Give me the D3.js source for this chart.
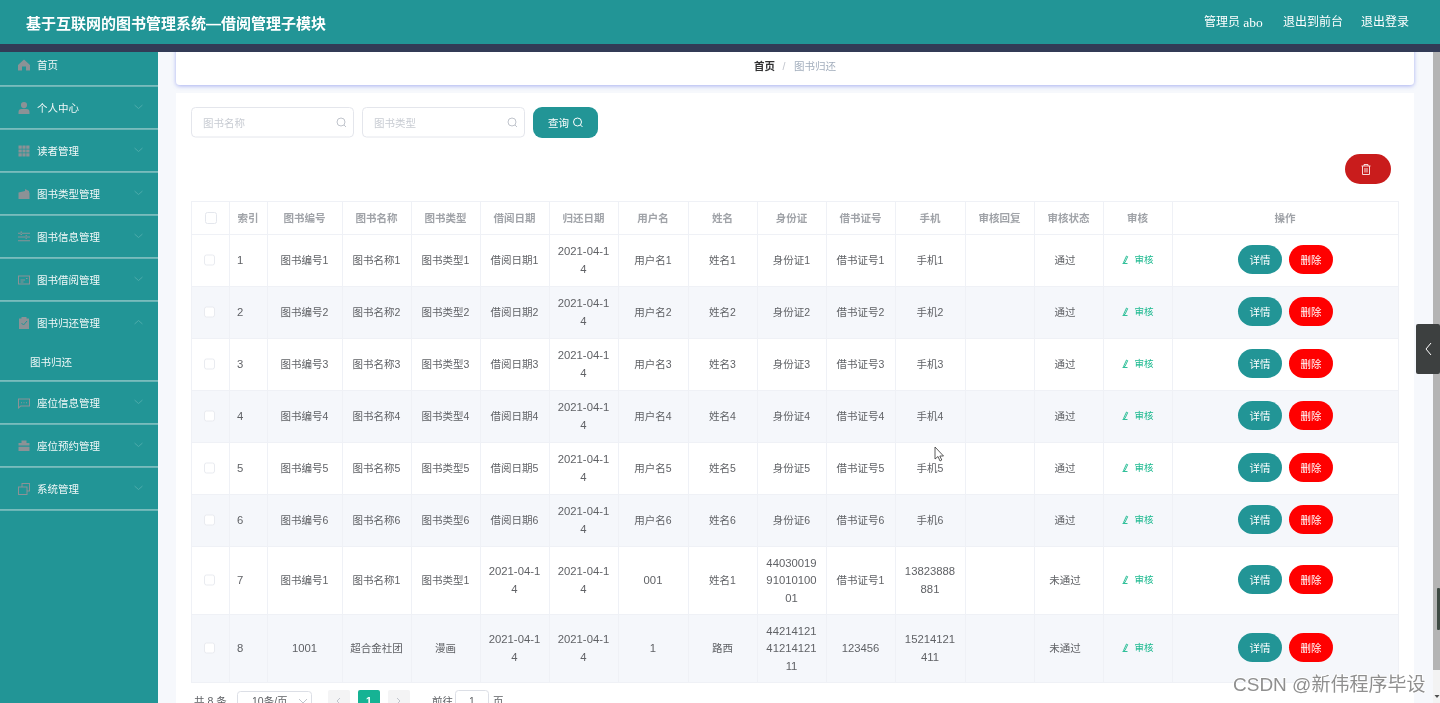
<!DOCTYPE html>
<html>
<head>
<meta charset="utf-8">
<script src="https://cdn.jsdelivr.net/npm/d3@7"></script>
<style>
  html, body { margin: 0; padding: 0; background: #f6f8fc; overflow: hidden; }
  svg { display: block; }
  text { font-family: "Liberation Sans", "Noto Sans CJK SC", sans-serif; }
</style>
</head>
<body>
<svg id="page" width="1440" height="703"></svg>
<script>
const WIDTH = 1440;
const HEIGHT = 703;

// sidebar
const menuLabels = ["首页", "个人中心", "读者管理", "图书类型管理", "图书信息管理", "图书借阅管理", "图书归还管理", "座位信息管理", "座位预约管理", "系统管理"];
const menuHeights = [43, 43, 43, 43, 43, 43, 80, 43, 43, 43];
const menuIcons = ["home", "user", "grid", "case", "sliders", "card", "clip", "chat", "bag", "copy"];

// table
const columnTitles = ["", "索引", "图书编号", "图书名称", "图书类型", "借阅日期", "归还日期", "用户名", "姓名", "身份证", "借书证号", "手机", "审核回复", "审核状态", "审核", "操作"];
const columnWidths = [38, 38, 75, 69, 69, 69, 69, 70, 69, 69, 69, 70, 69, 69, 69, 226];
const rowHeights = [52, 52, 52, 52, 52, 52, 68, 68];

const indexes = [1, 2, 3, 4, 5, 6, 7, 8];
const bookCodes = ["图书编号1", "图书编号2", "图书编号3", "图书编号4", "图书编号5", "图书编号6", "图书编号1", "1001"];
const bookNames = ["图书名称1", "图书名称2", "图书名称3", "图书名称4", "图书名称5", "图书名称6", "图书名称1", "超合金社团"];
const bookTypes = ["图书类型1", "图书类型2", "图书类型3", "图书类型4", "图书类型5", "图书类型6", "图书类型1", "漫画"];
const borrowDates = ["借阅日期1", "借阅日期2", "借阅日期3", "借阅日期4", "借阅日期5", "借阅日期6", "2021-04-14", "2021-04-14"];
const returnDates = ["2021-04-14", "2021-04-14", "2021-04-14", "2021-04-14", "2021-04-14", "2021-04-14", "2021-04-14", "2021-04-14"];
const userNames = ["用户名1", "用户名2", "用户名3", "用户名4", "用户名5", "用户名6", "001", "1"];
const realNames = ["姓名1", "姓名2", "姓名3", "姓名4", "姓名5", "姓名6", "姓名1", "路西"];
const idCards = ["身份证1", "身份证2", "身份证3", "身份证4", "身份证5", "身份证6", "440300199101010001", "442141214121412111"];
const cardNumbers = ["借书证号1", "借书证号2", "借书证号3", "借书证号4", "借书证号5", "借书证号6", "借书证号1", "123456"];
const phones = ["手机1", "手机2", "手机3", "手机4", "手机5", "手机6", "13823888881", "15214121411"];
const replies = ["", "", "", "", "", "", "", ""];
const statuses = ["通过", "通过", "通过", "通过", "通过", "通过", "未通过", "未通过"];

const TEAL = "#219596";
const BORDER = "#eff1f6";
const svg = d3.select("#page");

const addRect = (g, x, y, w, h, fill, r = 0, stroke = null) =>
  g.append("rect").attr("x", x).attr("y", y).attr("width", w).attr("height", h)
    .attr("rx", r).attr("fill", fill).attr("stroke", stroke);

const addText = (g, x, y, str, size, fill, anchor = "start", weight = 400) =>
  g.append("text").attr("x", x).attr("y", y).attr("font-size", size).attr("fill", fill)
    .attr("text-anchor", anchor).attr("font-weight", weight)
    .attr("dominant-baseline", "central").text(str);

// blue tinted shadow of the breadcrumb card
const defs = svg.append("defs");
const glow = defs.append("filter").attr("id", "glow").attr("x", "-5%").attr("y", "-30%").attr("width", "110%").attr("height", "170%");
glow.append("feDropShadow").attr("dx", 0).attr("dy", 1).attr("stdDeviation", 2.2).attr("flood-color", "#6f7fe8").attr("flood-opacity", 0.6);
const soft = defs.append("filter").attr("id", "soft");
soft.append("feGaussianBlur").attr("stdDeviation", 0.4);

const root = svg.append("g").attr("filter", "url(#soft)");

// 1. Page background + cards
addRect(root, 0, 0, WIDTH, HEIGHT, "#f6f8fc");
addRect(root, 176, 93, 1238, 610, "#ffffff");
addRect(root, 176, 40, 1238, 45, "#ffffff", 4).attr("filter", "url(#glow)");

// 2. Sidebar
const sidebar = root.append("g");
addRect(sidebar, 0, 44, 158, HEIGHT - 44, TEAL);

const menuTops = [43, ...d3.cumsum(menuHeights).map(d => d + 43)];
const menuY = d3.scaleOrdinal().domain(menuLabels).range(menuTops);

const iconColor = "#8c9296";
const iconPaths = {
  home: "M-6 0 L0 -5.5 L6 0 V5.5 H2 V1.5 H-2 V5.5 H-6 Z",
  user: "M0 -6 A3 3 0 1 1 0 0.2 A3 3 0 1 1 0 -6 Z M-5.5 6 V4 Q-5.5 1 -2.5 1 H2.5 Q5.5 1 5.5 4 V6 Z",
  grid: "M-5.5 -5.5 H-2.2 V-2.2 H-5.5 Z M-1.6 -5.5 H1.6 V-2.2 H-1.6 Z M2.2 -5.5 H5.5 V-2.2 H2.2 Z M-5.5 -1.6 H-2.2 V1.6 H-5.5 Z M-1.6 -1.6 H1.6 V1.6 H-1.6 Z M2.2 -1.6 H5.5 V1.6 H2.2 Z M-5.5 2.2 H-2.2 V5.5 H-5.5 Z M-1.6 2.2 H1.6 V5.5 H-1.6 Z M2.2 2.2 H5.5 V5.5 H2.2 Z",
  case: "M-5.5 -1.5 L1 -3 V-5 L5 -3 V-1.5 H5.5 V5 H-5.5 Z",
  sliders: "M-6 -4.2 H6 V-3.2 H-6 Z M-6 -0.5 H6 V0.5 H-6 Z M-6 3.2 H6 V4.2 H-6 Z M-3.5 -5.5 H-2 V-2 H-3.5 Z M1.5 -1.8 H3 V1.8 H1.5 Z",
  card: "M-6 -4.5 H6 V4.5 H-6 Z M-5 -3.5 V3.5 H5 V-3.5 Z M-3.5 -0.5 H1 V0.5 H-3.5 Z M-3.5 1.5 H-0.5 V2.5 H-3.5 Z M2 -2 H3.5 V-1 H2 Z",
  clip: "M-5 -4.5 H-2.5 V-6 H2.5 V-4.5 H5 V6 H-5 Z",
  chat: "M-6 -4.5 H6 V3.5 H-3 L-6 6 Z M-5 -3.5 V3.8 L-3.4 2.5 H5 V-3.5 Z M-3 -0.8 H-2 V0.2 H-3 Z M-0.5 -0.8 H0.5 V0.2 H-0.5 Z M2 -0.8 H3 V0.2 H2 Z",
  bag: "M-2.5 -5.5 H2.5 V-3 H5.5 V-0.5 H-5.5 V-3 H-2.5 Z M-5.5 0.8 H5.5 V5 H-5.5 Z",
  copy: "M-2.5 -6 H6 V2.5 H3.5 V6 H-6 V-2.5 H-2.5 Z M-1.5 -5 V-2.5 H3.5 V1.5 H5 V-5 Z M-5 -1.5 V5 H2.5 V-1.5 Z"
};

const items = sidebar.selectAll(".menu").data(menuLabels).join("g").attr("class", "menu");

items.append("rect")
  .attr("x", 0).attr("width", 158).attr("height", 1.1)
  .attr("y", (d, i) => menuTops[i + 1] - 0.6)
  .attr("fill", "#b4d6d6");

const rowCentre = (d, i) => menuY(d) + 22;

items.append("path")
  .attr("d", (d, i) => iconPaths[menuIcons[i]])
  .attr("fill", iconColor)
  .attr("fill-rule", "evenodd")
  .attr("transform", (d, i) => `translate(24,${rowCentre(d, i)})`);

items.append("text")
  .attr("x", 37).attr("y", rowCentre)
  .attr("dominant-baseline", "central")
  .attr("font-size", 10.5).attr("fill", "#f2f8f8")
  .text(d => d);

items.filter(d => d !== "首页").append("path")
  .attr("d", d => d === "图书归还管理" ? "M-4 2 L0 -1.5 L4 2" : "M-4 -2 L0 1.5 L4 -2")
  .attr("fill", "none").attr("stroke", "#52adad").attr("stroke-width", 0.9)
  .attr("transform", (d, i) => `translate(138.5,${rowCentre(d, i) - 1})`);

// check mark on the opened item's clipboard
sidebar.append("path").attr("d", "M21.5 323 L23.5 325 L27 321").attr("fill", "none").attr("stroke", TEAL).attr("stroke-width", 1);

// submenu of the opened item
addText(sidebar, 30, 362, "图书归还", 10.5, "#f2f8f8");

// 3. Top bar
addRect(root, 0, 0, WIDTH, 44, TEAL);
addRect(root, 0, 44, WIDTH, 8, "#333a56");
addText(root, 26, 23, "基于互联网的图书管理系统—借阅管理子模块", 15, "#ffffff", "start", 700);
const admin = addText(root, 1204, 22, "管理员 ", 12, "#ffffff");
admin.append("tspan").attr("font-family", "Liberation Serif").attr("font-size", 13.5).text("abo");
addText(root, 1283, 22, "退出到前台", 12, "#ffffff");
addText(root, 1361, 22, "退出登录", 12, "#ffffff");

// 4. Breadcrumb
addText(root, 754, 66, "首页", 10.5, "#303133", "start", 700);
addText(root, 784, 66, "/", 10.5, "#c0c4cc", "middle");
addText(root, 794, 66, "图书归还", 10.5, "#a3aebd");

// 5. Search row
[[191, "图书名称"], [362, "图书类型"]].forEach(([x, label]) => {
  addRect(root, x + 0.5, 107.5, 162, 29.5, "#ffffff", 4, "#e4e6ec");
  addText(root, x + 12, 122.5, label, 10.5, "#c8ccd3");
  root.append("circle").attr("cx", x + 150).attr("cy", 122).attr("r", 4)
    .attr("fill", "none").attr("stroke", "#c0c4cc");
  root.append("line").attr("x1", x + 153).attr("y1", 125).attr("x2", x + 155).attr("y2", 127).attr("stroke", "#c0c4cc");
});
addRect(root, 533, 107, 65, 31, TEAL, 9);
addText(root, 548, 122.5, "查询", 10.5, "#ffffff");
root.append("circle").attr("cx", 577.5).attr("cy", 122).attr("r", 4).attr("fill", "none").attr("stroke", "#ffffff");
root.append("line").attr("x1", 580.5).attr("y1", 125).attr("x2", 582.5).attr("y2", 127).attr("stroke", "#ffffff");

// bulk delete
addRect(root, 1345, 154, 46, 30, "#c91c1c", 15);
root.append("path")
  .attr("d", "M-4.5 -3.5 H4.5 M-2 -3.5 V-5 H2 V-3.5 M-3.5 -3.5 V5 H3.5 V-3.5 M-1 -1.5 V3 M1 -1.5 V3")
  .attr("fill", "none").attr("stroke", "#f7dada").attr("stroke-width", 1)
  .attr("transform", "translate(1366,169.5)");

// 6. Table
const TABLE_LEFT = 191;
const HEAD_TOP = 201;
const HEAD_H = 33;

const columnEdges = [TABLE_LEFT, ...d3.cumsum(columnWidths).map(d => d + TABLE_LEFT)];
const xLeft = d3.scaleOrdinal().domain(d3.range(columnWidths.length)).range(columnEdges);
const xMid = i => xLeft(i) + columnWidths[i] / 2;

const rowEdges = [HEAD_TOP + HEAD_H, ...d3.cumsum(rowHeights).map(d => d + HEAD_TOP + HEAD_H)];
const yTop = d3.scaleOrdinal().domain(d3.range(rowHeights.length)).range(rowEdges);
const yMid = i => yTop(i) + rowHeights[i] / 2;

const TABLE_RIGHT = columnEdges[columnEdges.length - 1];
const TABLE_BOTTOM = rowEdges[rowEdges.length - 1];

const table = root.append("g");

table.selectAll(".stripe").data(rowHeights).join("rect")
  .attr("class", "stripe")
  .attr("x", TABLE_LEFT).attr("width", TABLE_RIGHT - TABLE_LEFT)
  .attr("y", (d, i) => yTop(i)).attr("height", d => d)
  .attr("fill", (d, i) => i % 2 ? "#f5f7fb" : "#ffffff");

// borders
table.selectAll(".vline").data(columnEdges).join("line")
  .attr("class", "vline")
  .attr("x1", d => d + 0.5).attr("x2", d => d + 0.5)
  .attr("y1", HEAD_TOP).attr("y2", TABLE_BOTTOM)
  .attr("stroke", BORDER);

table.selectAll(".hline").data([HEAD_TOP, ...rowEdges]).join("line")
  .attr("class", "hline")
  .attr("x1", TABLE_LEFT).attr("x2", TABLE_RIGHT)
  .attr("y1", d => d + 0.5).attr("y2", d => d + 0.5)
  .attr("stroke", BORDER);

// header titles
table.selectAll(".title").data(columnTitles).join("text")
  .attr("class", "title")
  .attr("x", (d, i) => xMid(i)).attr("y", HEAD_TOP + 17)
  .attr("text-anchor", "middle").attr("dominant-baseline", "central")
  .attr("font-size", 10.5).attr("font-weight", 700).attr("fill", "#a0a3a8")
  .text(d => d);

addRect(table, 205.5, 212.5, 11, 11, "#ffffff", 2, "#e4e7ed");

// checkboxes
table.selectAll(".check").data(indexes).join("rect")
  .attr("class", "check")
  .attr("x", 204.5).attr("width", 10).attr("height", 10).attr("rx", 2)
  .attr("y", (d, i) => yMid(i) - 5)
  .attr("fill", "#ffffff").attr("stroke", "#e9ebf0");

// index column is left aligned
table.selectAll(".idx").data(indexes).join("text")
  .attr("class", "idx")
  .attr("x", xLeft(1) + 8).attr("y", (d, i) => yMid(i))
  .attr("dominant-baseline", "central")
  .attr("font-size", 11.3).attr("fill", "#606266")
  .text(d => d);

// plain text cells, narrow columns break long latin values
const textColumns = [
  [2, bookCodes, 0], [3, bookNames, 0], [4, bookTypes, 0],
  [5, borrowDates, 9], [6, returnDates, 9], [7, userNames, 0], [8, realNames, 0],
  [9, idCards, 8], [10, cardNumbers, 0], [11, phones, 8], [12, replies, 0], [13, statuses, 0]
];
const LINE_H = 17.5;
const isLatin = value => /^[\d-]+$/.test(value);

const breakValue = (value, size) => {
  if (!size || !isLatin(value)) return [value];
  const parts = [];
  for (let i = 0; i < value.length; i += size) parts.push(value.slice(i, i + size));
  return parts;
};

textColumns.forEach(([col, values, size]) => {
  // the status text sits a little left of its column centre
  const dx = col === 13 ? -3.5 : 0;
  const cells = table.append("g").selectAll("text").data(values).join("text")
    .attr("font-size", d => isLatin(d) ? 11.3 : 10.5)
    .attr("fill", "#606266").attr("text-anchor", "middle");
  cells.each(function (value, row) {
    const lines = breakValue(value, size);
    d3.select(this).selectAll("tspan").data(lines).join("tspan")
      .attr("x", xMid(col) + dx)
      .attr("y", (l, k) => yMid(row) + (k - (lines.length - 1) / 2) * LINE_H)
      .attr("dominant-baseline", "central")
      .text(l => l);
  });
});

// review links
const review = table.selectAll(".review").data(indexes).join("g")
  .attr("class", "review")
  .attr("transform", (d, i) => `translate(${xMid(14)},${yMid(i) - 0.5})`);
review.append("path")
  .attr("d", "M-14 3 L-11 -3.5 L-9.8 -2.8 L-12.6 3 Z M-15 4 H-10")
  .attr("fill", "none").attr("stroke", "#1cb98f").attr("stroke-width", 0.9);
review.append("text")
  .attr("x", -3).attr("dominant-baseline", "central")
  .attr("font-size", 9.5).attr("fill", "#1cb98f")
  .text("审核");

// action buttons
const actions = table.selectAll(".actions").data(indexes).join("g")
  .attr("class", "actions")
  .attr("transform", (d, i) => `translate(0,${yMid(i) - 0.5})`);
[[1238, "详情", TEAL], [1289, "删除", "#ff0000"]].forEach(([x, label, color]) => {
  actions.append("rect")
    .attr("x", x).attr("y", -14.5).attr("width", 44).attr("height", 29).attr("rx", 14.5)
    .attr("fill", color);
  actions.append("text")
    .attr("x", x + 22).attr("text-anchor", "middle").attr("dominant-baseline", "central")
    .attr("font-size", 10.5).attr("fill", "#ffffff")
    .text(label);
});

// 7. Pagination (the window cuts it off, as in the screenshot)
const pager = root.append("g");
addText(pager, 194, 701, "共 8 条", 10.5, "#606266");
addRect(pager, 237.5, 691.5, 74, 26, "#ffffff", 3, "#dcdfe6");
addText(pager, 252, 701, "10条/页", 10.5, "#606266");
pager.append("path").attr("d", "M299 699 L303 703 L307 699").attr("fill", "none").attr("stroke", "#c0c4cc");
addRect(pager, 328, 690, 22, 26, "#f4f4f5", 2);
addRect(pager, 358, 690, 22, 26, "#19b394", 2);
addRect(pager, 388, 690, 22, 26, "#f4f4f5", 2);
addText(pager, 369, 701, "1", 10.5, "#ffffff", "middle", 700);
pager.append("path").attr("d", "M340 698 L337 701 L340 704").attr("fill", "none").attr("stroke", "#c0c4cc");
pager.append("path").attr("d", "M397 698 L400 701 L397 704").attr("fill", "none").attr("stroke", "#c0c4cc");
addText(pager, 432, 701, "前往", 10.5, "#606266");
addRect(pager, 455.5, 690.5, 33, 26, "#ffffff", 3, "#dcdfe6");
addText(pager, 472, 701, "1", 10.5, "#606266", "middle");
addText(pager, 493, 701, "页", 10.5, "#606266");

// 8. Right edge: scrollbar and collapse tab
addRect(root, 1433, 52, 7, 618, "#b4b4b4");
addRect(root, 1433, 670, 7, 33, "#f3f3f3");
root.append("path").attr("d", "M1434.5 695 H1439.5 L1437 698 Z").attr("fill", "#505050");
addRect(root, 1437, 588, 3, 42, "#3d4a42", 1);
addRect(root, 1416, 324, 24, 50, "#3e4040", 2);
root.append("path").attr("d", "M1431 343 L1426 349 L1431 355").attr("fill", "none").attr("stroke", "#ffffff");

// mouse pointer
root.append("path")
  .attr("d", "M935 447 V459 L938 456.5 L940 461 L941.8 460 L939.8 456 L943.5 456 Z")
  .attr("fill", "#ffffff").attr("stroke", "#333333").attr("stroke-width", 0.8);

// watermark
addText(root, 1233, 684, "CSDN @新伟程序毕设", 19, "#8f8f8f")
  .attr("stroke", "#ffffff").attr("stroke-width", 1.5).attr("paint-order", "stroke");
</script>
</body>
</html>
